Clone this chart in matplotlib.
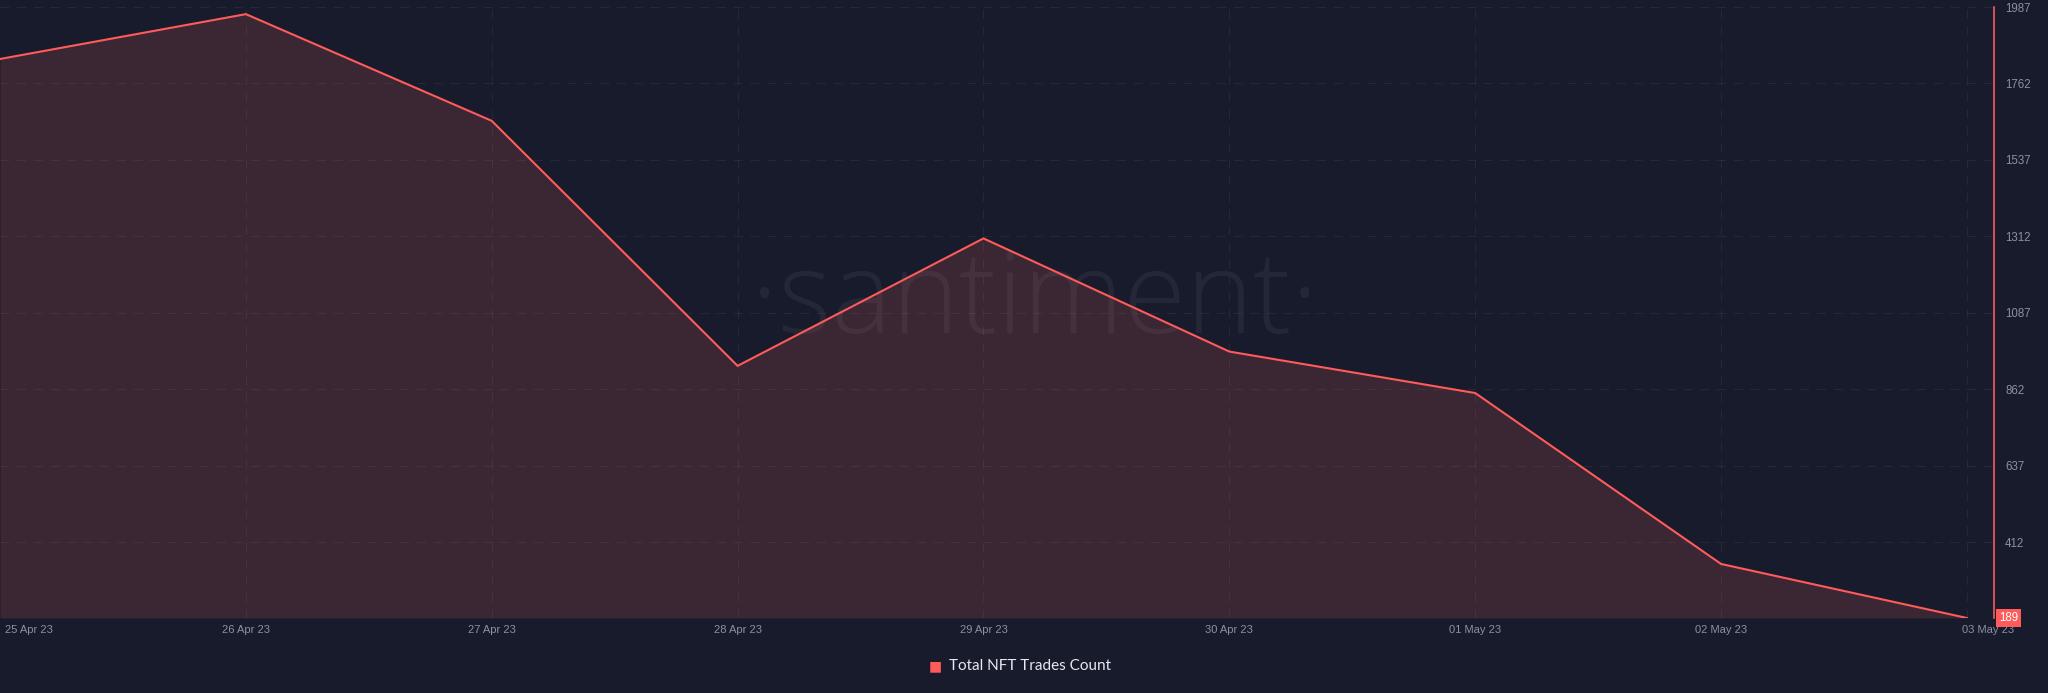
import numpy as np
import matplotlib
matplotlib.use('Agg')
import matplotlib.pyplot as plt
import matplotlib.transforms as mtransforms

# ── Data ──────────────────────────────────────────────────────────────────────
dates  = ['25 Apr 23', '26 Apr 23', '27 Apr 23', '28 Apr 23', '29 Apr 23',
          '30 Apr 23', '01 May 23', '02 May 23', '03 May 23']
trades = [1834, 1966, 1652, 931, 1306, 973, 851, 348, 189]
y_ticks = [412, 637, 862, 1087, 1312, 1537, 1762, 1987]
y_min, y_max = 189, 1987

# ── Style ─────────────────────────────────────────────────────────────────────
BG     = '#181b2b'
FILL   = '#3b2633'
LINE   = '#ff5b5b'
TICK   = '#8a90a6'

plt.rcParams['font.family'] = ['Liberation Sans', 'DejaVu Sans']

fig = plt.figure(figsize=(20.48, 6.93), dpi=100, facecolor=BG)
ax = fig.add_axes([0, 1 - 618 / 693, 1994 / 2048, (618 - 7) / 693])
ax.set_facecolor(BG)

x = np.arange(len(dates))
ax.fill_between(x, trades, y_min, color=FILL, lw=0, zorder=1)
ax.plot(x, trades, color=LINE, lw=1.5, zorder=3, solid_joinstyle='miter')

ax.set_xlim(0, 8.11)
ax.set_ylim(y_min, y_max)

# grid (faint, drawn over the fill)
for yt in y_ticks:
    ax.axhline(yt, color='white', alpha=0.06, lw=0.8, ls=(0, (8, 7)), zorder=2)
for xi in x[1:]:
    ax.axvline(xi, color='white', alpha=0.06, lw=0.8, ls=(0, (8, 7)), zorder=2)

# watermark
ax.text(0.519, 0.515, '·santiment·', transform=ax.transAxes, ha='center', va='center',
        fontsize=82, color='#ffffff', alpha=0.055, family=['Open Sans', 'DejaVu Sans'],
        fontweight='light', zorder=2.5)

# spines
for s in ['top', 'left', 'bottom']:
    ax.spines[s].set_visible(False)
ax.spines['right'].set_color(LINE)
ax.spines['right'].set_linewidth(1.2)

# ticks
ax.yaxis.tick_right()
ax.set_yticks(y_ticks)
ax.set_yticklabels([str(v) for v in y_ticks])
ax.tick_params(axis='y', length=0, pad=8, labelsize=8.3, labelcolor=TICK)
ax.set_xticks(x)
ax.set_xticklabels(dates)
ax.tick_params(axis='x', length=0, pad=5, labelsize=8, labelcolor=TICK)
labels = ax.get_xticklabels()
labels[0].set_horizontalalignment('left')
labels[0].set_transform(labels[0].get_transform() +
                        mtransforms.ScaledTranslation(5 / 100, 0, fig.dpi_scale_trans))
labels[-1].set_transform(labels[-1].get_transform() +
                         mtransforms.ScaledTranslation(21 / 100, 0, fig.dpi_scale_trans))

# last value badge
ax.text(1.0025, y_min, str(trades[-1]), transform=ax.get_yaxis_transform(),
        ha='left', va='center', fontsize=8.3, color='white',
        bbox=dict(boxstyle='square,pad=0.22', fc=LINE, ec='none'), zorder=5, clip_on=False)

# legend
fig.text(0.4565, 1 - 666 / 693, '■', color=LINE, fontsize=10, ha='center', va='center',
         family=['DejaVu Sans'])
fig.text(0.4635, 1 - 666 / 693, 'Total NFT Trades Count', color='#e6e8ef', fontsize=11,
         ha='left', va='center', family=['Lato', 'DejaVu Sans'])

fig.savefig('out.png', dpi=100, facecolor=BG)
